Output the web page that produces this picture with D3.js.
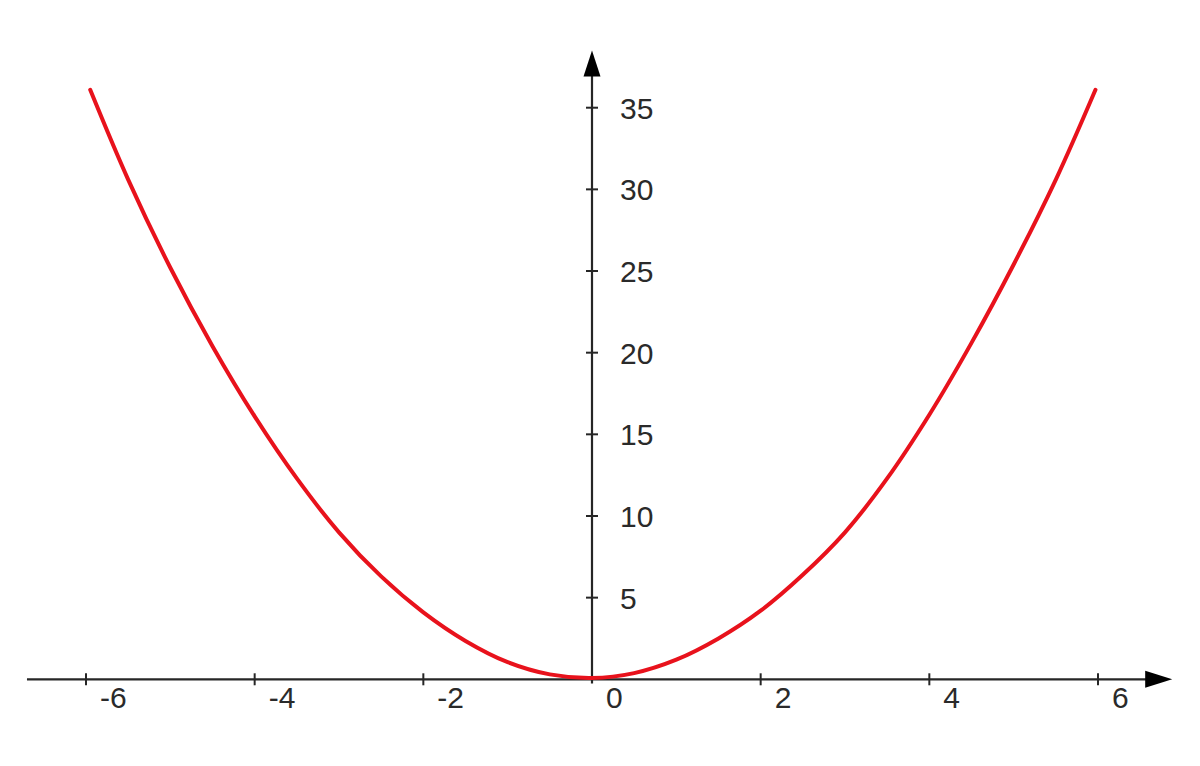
<!DOCTYPE html>
<html>
<head>
<meta charset="utf-8">
<script src="https://cdn.jsdelivr.net/npm/d3@7"></script>
<style>
  html, body { margin: 0; padding: 0; background: #fff; }
  svg text { font-family: "Liberation Sans", Arial, sans-serif; fill: #2a2a2a; }
</style>
</head>
<body>
<div id="chart"></div>
<script>
// curve values
const xValues = [-5.95, -5.5, -5, -4.5, -4, -3.5, -3, -2.5, -2, -1.5, -1, -0.5, 0, 0.5, 1, 1.5, 2, 2.5, 3, 3.5, 4, 4.5, 5, 5.5, 5.97];
const yValues = [36.1, 30.6, 25.2, 20.4, 16.1, 12.3, 9.0, 6.3, 4.1, 2.35, 1.05, 0.3, 0.08, 0.38, 1.2, 2.5, 4.2, 6.4, 9.0, 12.3, 16.2, 20.6, 25.4, 30.6, 36.1];
const xTicks = [-6, -4, -2, 2, 4, 6];
const yTicks = [5, 10, 15, 20, 25, 30, 35];

const width = 1200, height = 766;

const svg = d3.select("#chart")
  .append("svg")
  .attr("width", width)
  .attr("height", height);

const x = d3.scaleLinear().domain([-6, 6]).range([86, 1098]);
const y = d3.scaleLinear().domain([0, 35]).range([679.3, 107.7]);

const axisColor = "#262626";

// x axis line + arrow
svg.append("line")
  .attr("x1", x(-6.7)).attr("x2", x(6.6))
  .attr("y1", y(0)).attr("y2", y(0))
  .attr("stroke", axisColor).attr("stroke-width", 2.2);

const xTip = x(6.88);
svg.append("path")
  .attr("d", `M${xTip},${y(0)} L${xTip - 27},${y(0) - 8.5} L${xTip - 27},${y(0) + 8.5} Z`)
  .attr("fill", "#000");

// y axis line + arrow
svg.append("line")
  .attr("x1", x(0)).attr("x2", x(0))
  .attr("y1", y(-0.25)).attr("y2", y(37))
  .attr("stroke", axisColor).attr("stroke-width", 2.2);

const yTip = y(38.5);
svg.append("path")
  .attr("d", `M${x(0)},${yTip} L${x(0) - 8.5},${yTip + 26} L${x(0) + 8.5},${yTip + 26} Z`)
  .attr("fill", "#000");

// x ticks and labels
svg.selectAll(".xtick")
  .data(xTicks)
  .enter()
  .append("line")
  .attr("x1", d => x(d)).attr("x2", d => x(d))
  .attr("y1", y(0) - 6).attr("y2", y(0) + 6)
  .attr("stroke", axisColor).attr("stroke-width", 2);

svg.selectAll(".xlabel")
  .data(xTicks.concat([0]))
  .enter()
  .append("text")
  .attr("x", d => x(d) + 14)
  .attr("y", y(0) + 29)
  .attr("font-size", 30)
  .text(d => d);

// y ticks and labels
svg.selectAll(".ytick")
  .data(yTicks)
  .enter()
  .append("line")
  .attr("x1", x(0) - 6).attr("x2", x(0) + 6)
  .attr("y1", d => y(d)).attr("y2", d => y(d))
  .attr("stroke", axisColor).attr("stroke-width", 2);

svg.selectAll(".ylabel")
  .data(yTicks)
  .enter()
  .append("text")
  .attr("x", x(0) + 28)
  .attr("y", d => y(d) + 11)
  .attr("font-size", 30)
  .text(d => d);

// the curve
const points = xValues.map((v, i) => [v, yValues[i]]);
const line = d3.line()
  .x(d => x(d[0]))
  .y(d => y(d[1]))
  .curve(d3.curveCatmullRom);

svg.append("path")
  .datum(points)
  .attr("d", line)
  .attr("fill", "none")
  .attr("stroke", "#e8121c")
  .attr("stroke-width", 4)
  .attr("stroke-linecap", "round");
</script>
</body>
</html>
